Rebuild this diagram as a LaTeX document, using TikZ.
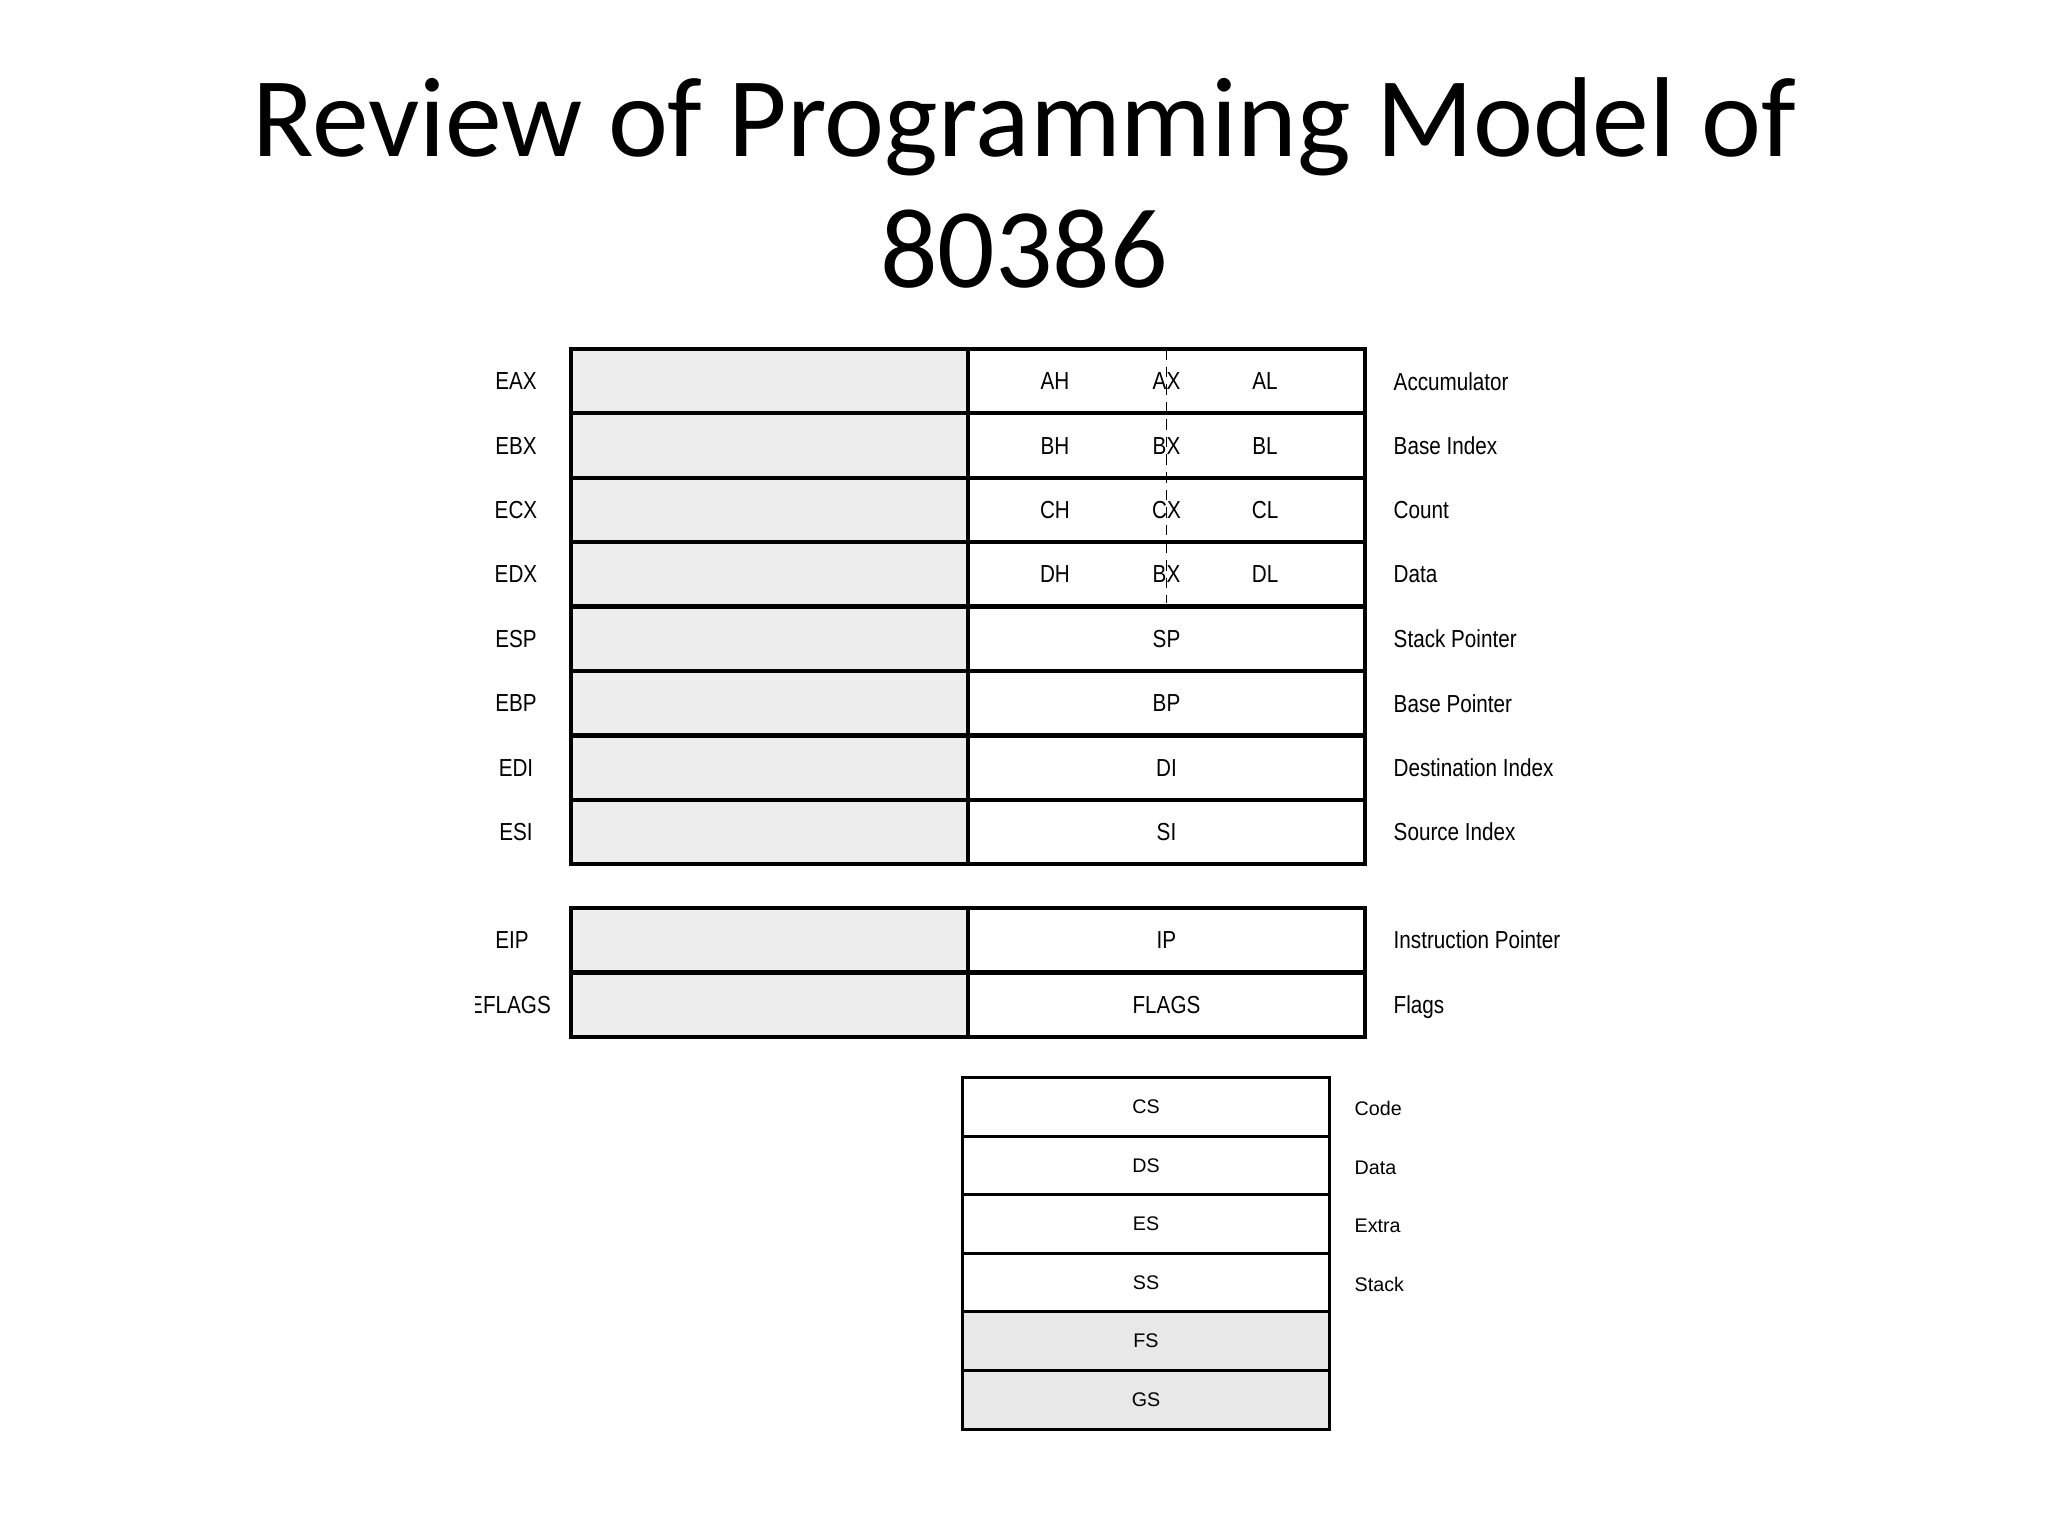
\documentclass[tikz,border=0pt]{standalone}
\usepackage{fontspec}
\setmainfont{Carlito}
\newfontfamily\regfont[FakeStretch=0.84]{Liberation Sans}
\newfontfamily\segfont{Liberation Sans}
\usetikzlibrary{positioning}

\tikzset{
  hicell/.style={draw,line width=1.2pt,fill=black!7,minimum width=3.97cm,
    minimum height=0.644cm,inner sep=0pt,outer sep=0pt},
  locell/.style={hicell,fill=white,font=\regfont\fontsize{7}{8}\selectfont},
  segcell/.style={draw,line width=0.9pt,minimum width=3.67cm,
    minimum height=0.586cm,inner sep=0pt,outer sep=0pt,
    font=\segfont\fontsize{5.6}{7}\selectfont},
  reglbl/.style={font=\regfont\fontsize{7}{8}\selectfont,inner sep=0pt},
  seglbl/.style={font=\segfont\fontsize{5.6}{7}\selectfont,inner sep=0pt,anchor=west},
}

\begin{document}
\begin{tikzpicture}[x=0.01cm,y=-0.01cm]
\useasboundingbox[fill=white] (0,0) rectangle (2048,1536);
% title
\node[font=\fontsize{32.3}{37}\selectfont,align=center] (title) at (1024,183)
  {Review of Programming Model of\\80386};

% general registers
\foreach \nm/\lbl/\txt/\desc [count=\i from 0] in
  {eax/EAX//Accumulator, ebx/EBX//Base Index, ecx/ECX//Count, edx/EDX//Data,
   esp/ESP/SP/Stack Pointer, ebp/EBP/BP/Base Pointer,
   edi/EDI/DI/Destination Index, esi/ESI/SI/Source Index}
{
  \node[hicell] (\nm hi) at (769.5,{349+64.4*(\i+0.5)}) {};
  \node[locell] (\nm lo) at (1166.5,{349+64.4*(\i+0.5)}) {\txt};
  \node[reglbl] (\nm name) at (516,{349+64.4*(\i+0.5)}) {\lbl};
  \node[reglbl,anchor=west] (\nm desc) at (1393,{349+64.4*(\i+0.5)}) {\desc};
}
\draw[line width=0.5pt,dash pattern=on 3pt off 2pt] (eaxlo.north) -- ([yshift=0.04cm]edxlo.south);
\foreach \nm/\hb/\wrd/\lb in {eax/AH/AX/AL, ebx/BH/BX/BL, ecx/CH/CX/CL, edx/DH/BX/DL}
{
  \node[reglbl] (\nm h) at ([xshift=-1.115cm]\nm lo.center) {\hb};
  \node[reglbl] (\nm x) at (\nm lo.center) {\wrd};
  \node[reglbl] (\nm l) at ([xshift=0.985cm]\nm lo.center) {\lb};
}

% instruction pointer and flags
\node[hicell] (eiphi) at (769.5,940) {};
\node[locell] (eiplo) at (1166.5,940) {IP};
\node[hicell] (flghi) at (769.5,1005) {};
\node[locell] (flglo) at (1166.5,1005) {FLAGS};
\node[reglbl] (eipname) at (512,940) {EIP};
\begin{scope}
  \clip (475,960) rectangle (600,1050);
  \node[reglbl] (flgname) at (510,1005) {EFLAGS};
\end{scope}
\node[reglbl,anchor=west] (eipdesc) at (1393,940) {Instruction Pointer};
\node[reglbl,anchor=west] (flgdesc) at (1393,1007) {Flags};

% segment registers
\foreach \nm/\txt/\desc/\shade [count=\i from 0] in
  {cs/CS/Code/0, ds/DS/Data/0, es/ES/Extra/0, ss/SS/Stack/0, fs/FS//9, gs/GS//9}
{
  \node[segcell,fill=black!\shade] (\nm) at (1146,{1077.5+58.6*(\i+0.5)}) {\txt};
  \node[seglbl] (\nm desc) at (1354,{1077.5+58.6*(\i+0.5)+2}) {\desc};
}
\end{tikzpicture}
\end{document}
